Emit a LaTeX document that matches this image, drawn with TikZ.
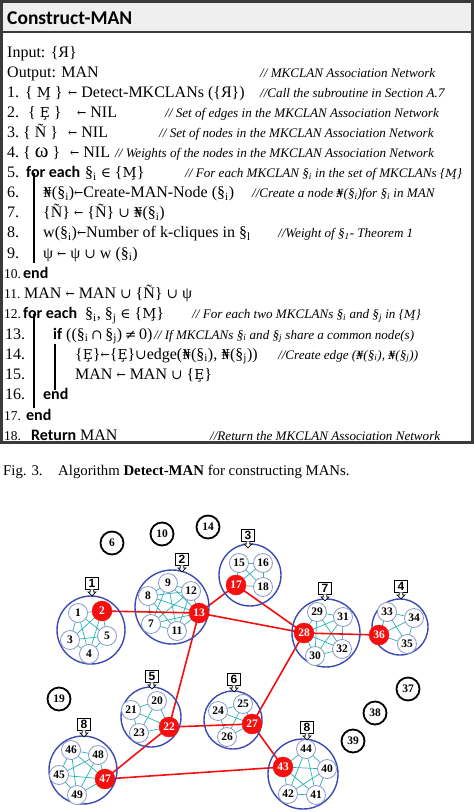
\documentclass[tikz,border=0pt]{standalone}
\usepackage{fontspec}
\setmainfont{Liberation Serif}
\newfontfamily\kwfont{Carlito}
\newfontfamily\symfont{DejaVu Serif}[Scale=0.86]
\newfontfamily\labfont{Liberation Sans}
\usetikzlibrary{calc}
\pgfdeclarelayer{back}
\pgfdeclarelayer{bg}
\pgfsetlayers{back,bg,main}
\definecolor{clblue}{HTML}{3C4BB4}
\definecolor{ndgray}{HTML}{8A9AC8}
\definecolor{meshc}{HTML}{27B3B8}
\definecolor{redn}{HTML}{F50F0F}
\definecolor{framec}{HTML}{3A3A3A}
\definecolor{titlebg}{HTML}{EFEFEF}
\newcommand\kwd[1]{{\kwfont\bfseries #1}}
\newcommand\ssub[1]{§\textsubscript{#1}}
\newcommand\Nai{{\symfont ₦}}
\newcommand\Mc{{\symfont M̧}}
\newcommand\Ec{{\symfont Ȩ}}
\newcommand\myun{{\symfont ∪}}
\newcommand\myin{{\symfont ∈}}
\newcommand\mycap{{\symfont ∩}}
\newcommand\myne{{\symfont ≠}}
\newcommand\lar{{\symfont\scalebox{0.8}[1]{←}}}
\newcommand\bigom{\scalebox{1.3}{ω}}
\tikzset{
  txt/.style={anchor=base west, inner sep=0pt, font=\fontsize{16}{18}\selectfont},
  num/.style={anchor=base west, inner sep=0pt, font=\fontsize{13.5}{16}\selectfont},
  cmt/.style={anchor=base west, inner sep=0pt, font=\fontsize{13.1}{15}\selectfont\itshape},
  clu/.style={circle, draw=clblue, line width=1.4pt, inner sep=0pt},
  wn/.style={circle, draw=ndgray, line width=0.8pt, fill=white, minimum size=19pt, inner sep=0pt, font=\fontsize{11.5}{12}\selectfont\bfseries},
  rn/.style={circle, draw=redn, fill=redn, minimum size=20pt, inner sep=0pt, text=white, font=\fontsize{11.5}{12}\selectfont\bfseries},
  iso/.style={circle, draw=black, line width=1.8pt, fill=white, minimum size=23pt, inner sep=0pt, font=\fontsize{11.5}{12}\selectfont\bfseries},
  lbox/.style={rectangle, draw=black, line width=0.8pt, fill=white, minimum width=13pt, minimum height=12pt, inner sep=0pt, font=\labfont\fontsize{12}{12}\selectfont\bfseries},
  meshedge/.style={draw=meshc, line width=0.7pt},
  rededge/.style={draw=redn, line width=1.6pt},
  vbar/.style={draw=black, line width=1.5pt},
}
\newcommand\clab[4]{\node[lbox] (#1) at (#2,#3) {#4};
  \draw[fill=white, line width=0.7pt] (#1.south) ++(-1.8,0) -- ++(0,2.5) -- ++(-2.2,0) -- ++(4,4) -- ++(4,-4) -- ++(-2.2,0) -- ++(0,-2.5);}
\newcommand\mesh[1]{\begin{pgfonlayer}{bg}\foreach \a [count=\i] in {#1} {\foreach \b [count=\j] in {#1} {\ifnum\j>\i \draw[meshedge] (\a.center) -- (\b.center);\fi}}\end{pgfonlayer}}
\begin{document}
\begin{tikzpicture}[x=1pt,y=-1pt]
\useasboundingbox (0,0) rectangle (474,812);
\begin{pgfonlayer}{back}
\fill[white] (0,0) rectangle (474,812);
\end{pgfonlayer}
% ---------- algorithm box ----------
\fill[titlebg] (3,3) rectangle (471,31);
\draw[framec, line width=1.5pt] (3,32) -- (471,32);
\draw[framec, line width=3pt] (1.5,1.5) rectangle (472.5,442);
\node[anchor=base west, inner sep=0pt, font=\kwfont\fontsize{19.5}{20}\selectfont\bfseries] (title) at (7,24) {Construct-MAN};
\node[txt] (tIn) at (7,57) {Input: \{Я\}};
\node[txt] (tOut) at (7,77) {Output: MAN};
\node[cmt] (cOut) at (260,77) {// MKCLAN Association Network};
\node[txt] (n1) at (7,97) {1.};
\node[txt] (t1a) at (25,97) {\{ \Mc\ \}};
\node[txt] (t1b) at (68,97) {\lar\ Detect-MKCLANs (\{Я\})};
\node[cmt] (c1) at (260,97) {//Call the subroutine in Section A.7};
\node[txt] (n2) at (7,117.5) {2.};
\node[txt] (t2a) at (28,117.5) {\{ \Ec\ \}};
\node[txt] (t2b) at (77,117.5) {\lar\ NIL};
\node[cmt] (c2) at (165,117.5) {// Set of edges in the MKCLAN Association Network};
\node[txt] (n3) at (7,137.5) {3.};
\node[txt] (t3a) at (23,137.5) {\{ Ñ \}};
\node[txt] (t3b) at (68,137.5) {\lar\ NIL};
\node[cmt] (c3) at (159,137.5) {// Set of nodes in the MKCLAN Association Network};
\node[txt] (n4) at (7,157.5) {4.};
\node[txt] (t4a) at (23,157.5) {\{ \bigom\ \}};
\node[txt] (t4b) at (70,157.5) {\lar\ NIL};
\node[cmt] (c4) at (115,157.5) {// Weights of the nodes in the MKCLAN Association Network};
\node[txt] (n5) at (7,177.5) {5.};
\node[txt] (k5) at (26,177.5) {\kwd{for each}};
\node[txt] (t5) at (85,177.5) {\ssub{i} \myin\ \{\Mc\}};
\node[cmt] (c5) at (185,177.5) {// For each MKCLAN \ssub{i} in the set of MKCLANs \{\Mc\}};
\node[txt] (n6) at (7,197.5) {6.};
\node[txt] (t6) at (43,197.5) {\Nai(\ssub{i})\lar Create-MAN-Node (\ssub{i})};
\node[cmt] (c6) at (252,197.5) {//Create a node \Nai(\ssub{i})for \ssub{i} in MAN};
\node[txt] (n7) at (7,217.5) {7.};
\node[txt] (t7) at (43,217.5) {\{Ñ\} \lar\ \{Ñ\} \myun\ \Nai(\ssub{i})};
\node[txt] (n8) at (7,237.5) {8.};
\node[txt] (t8) at (43,237.5) {w(\ssub{i})\lar Number of k-cliques in \ssub{l}};
\node[cmt] (c8) at (278,237.5) {//Weight of \ssub{1}- Theorem 1};
\node[txt] (n9) at (7,258) {9.};
\node[txt] (t9) at (43,258) {ψ \lar\ ψ \myun\ w (\ssub{i})};
\node[num] (n10) at (4,278) {10.};
\node[txt] (k10) at (23,278) {\kwd{end}};
\node[num] (n11) at (4,298.5) {11.};
\node[txt] (t11) at (24,298.5) {MAN \lar\ MAN \myun\ \{Ñ\} \myun\ ψ};
\node[num] (n12) at (4,318.5) {12.};
\node[txt] (k12) at (23,318.5) {\kwd{for each}};
\node[txt] (t12) at (85,318.5) {\ssub{i}, \ssub{j} \myin\ \{\Mc\}};
\node[cmt] (c12) at (192,318.5) {// For each two MKCLANs \ssub{i} and \ssub{j} in \{\Mc\}};
\node[txt] (n13) at (5,339) {13.};
\node[txt] (k13) at (53,339) {\kwd{if}};
\node[txt] (t13) at (66,339) {((\ssub{i}\,\mycap\,\ssub{j})\,\myne\,0)};
\node[cmt] (c13) at (154,339) {// If MKCLANs \ssub{i} and \ssub{j} share a common node(s)};
\node[txt] (n14) at (5,359) {14.};
\node[txt] (t14) at (75,359) {\{\Ec\}\lar\{\Ec\}\myun edge(\Nai(\ssub{i}), \Nai(\ssub{j}))};
\node[cmt] (c14) at (278,359) {//Create edge (\Nai(\ssub{i}), \Nai(\ssub{j}))};
\node[txt] (n15) at (5,379.5) {15.};
\node[txt] (t15) at (75,379.5) {MAN \lar\ MAN \myun\ \{\Ec\}};
\node[txt] (n16) at (5,399.5) {16.};
\node[txt] (k16) at (43,399.5) {\kwd{end}};
\node[num] (n17) at (4,420) {17.};
\node[txt] (k17) at (26,420) {\kwd{end}};
\node[num] (n18) at (4,440) {18.};
\node[txt] (k18) at (31,440) {\kwd{Return}};
\node[txt] (t18) at (80,440) {MAN};
\node[cmt] (c18) at (210,440) {//Return the MKCLAN Association Network};
\draw[vbar] (34,173) -- (34,263);
\draw[vbar] (34,314) -- (34,408);
\draw[vbar] (55,344) -- (55,390);
% ---------- caption ----------
\node[anchor=base west, inner sep=0pt, font=\fontsize{14.8}{16}\selectfont] (capA) at (3,475) {Fig. 3.};
\node[anchor=base west, inner sep=0pt, font=\fontsize{14.8}{16}\selectfont] (capB) at (58,475) {Algorithm \textbf{Detect-MAN} for constructing MANs.};
% ---------- clusters ----------
\node[clu, minimum size=68pt] (K1) at (91,630) {};
\node[clu, minimum size=74pt] (K2) at (172,607) {};
\node[clu, minimum size=62pt] (K3) at (250,575) {};
\node[clu, minimum size=68pt] (K7) at (326,633) {};
\node[clu, minimum size=56pt] (K4) at (400,627) {};
\node[clu, minimum size=60pt] (K5) at (151,717) {};
\node[clu, minimum size=68pt] (K8a) at (83,770) {};
\node[clu, minimum size=58pt] (K6) at (233,720) {};
\node[clu, minimum size=70pt] (K8b) at (303,774) {};
% cluster 1
\node[wn] (v1) at (78,613) {1};
\node[rn] (v2) at (102,611) {2};
\node[wn] (v3) at (70,640) {3};
\node[wn] (v5) at (107,636) {5};
\node[wn] (v4) at (89,654) {4};
% cluster 2
\node[wn] (v9) at (168,583) {9};
\node[wn] (v12) at (191,591) {12};
\node[wn] (v8) at (148,596) {8};
\node[rn] (v13) at (199,613) {13};
\node[wn] (v7) at (151,624) {7};
\node[wn] (v11) at (177,631) {11};
% cluster 3
\node[wn] (v15) at (239,563) {15};
\node[wn] (v16) at (263,563) {16};
\node[rn] (v17) at (236,585) {17};
\node[wn] (v18) at (263,587) {18};
% cluster 7
\node[wn] (v29) at (317,612) {29};
\node[wn] (v31) at (343,617) {31};
\node[rn] (v28) at (304,633) {28};
\node[wn] (v30) at (315,656) {30};
\node[wn] (v32) at (342,649) {32};
% cluster 4
\node[wn] (v33) at (387,612) {33};
\node[wn] (v34) at (414,618) {34};
\node[rn] (v36) at (379,635) {36};
\node[wn] (v35) at (407,644) {35};
% cluster 5
\node[wn] (v20) at (157,701) {20};
\node[wn] (v21) at (131,710) {21};
\node[wn] (v23) at (139,733) {23};
\node[rn] (v22) at (169,727) {22};
% cluster 8 left
\node[wn] (v46) at (71,750) {46};
\node[wn] (v48) at (98,755) {48};
\node[wn] (v45) at (59,775) {45};
\node[rn] (v47) at (105,779) {47};
\node[wn] (v49) at (77,795) {49};
% cluster 6
\node[wn] (v24) at (218,711) {24};
\node[wn] (v25) at (243,704) {25};
\node[wn] (v26) at (227,737) {26};
\node[rn] (v27) at (252,724) {27};
% cluster 8 right
\node[wn] (v44) at (306,749) {44};
\node[wn] (v40) at (327,769) {40};
\node[rn] (v43) at (283,767) {43};
\node[wn] (v42) at (288,794) {42};
\node[wn] (v41) at (316,795) {41};
% isolated
\node[iso] (i6) at (112,543) {6};
\node[iso] (i10) at (162,534) {10};
\node[iso] (i14) at (208,527) {14};
\node[iso] (i19) at (59,699) {19};
\node[iso] (i37) at (408,689) {37};
\node[iso] (i38) at (375,713) {38};
\node[iso] (i39) at (353,741) {39};
% labels
\clab{L1}{92}{583}{1}
\clab{L2}{182}{559}{2}
\clab{L3}{248}{535}{3}
\clab{L7}{325}{588}{7}
\clab{L4}{401}{586}{4}
\clab{L5}{152}{676}{5}
\clab{L6}{234}{679}{6}
\clab{L8a}{84}{724}{8}
\clab{L8b}{307}{727}{8}
% meshes
\mesh{v1,v2,v3,v4,v5}
\mesh{v9,v12,v8,v13,v7,v11}
\mesh{v15,v16,v17,v18}
\mesh{v29,v31,v28,v30,v32}
\mesh{v33,v34,v36,v35}
\mesh{v20,v21,v23,v22}
\mesh{v46,v48,v45,v47,v49}
\mesh{v24,v25,v26,v27}
\mesh{v44,v40,v43,v42,v41}
% red edges
\begin{pgfonlayer}{bg}
\draw[rededge] (v2.center) -- (v13.center);
\draw[rededge] (v13.center) -- (v17.center);
\draw[rededge] (v13.center) -- (v28.center);
\draw[rededge] (v13.center) -- (v22.center);
\draw[rededge] (v17.center) -- (v28.center);
\draw[rededge] (v28.center) -- (v36.center);
\draw[rededge] (v28.center) -- (v27.center);
\draw[rededge] (v22.center) -- (v27.center);
\draw[rededge] (v22.center) -- (v47.center);
\draw[rededge] (v47.center) -- (v43.center);
\draw[rededge] (v27.center) -- (v43.center);
\end{pgfonlayer}
\end{tikzpicture}
\end{document}
